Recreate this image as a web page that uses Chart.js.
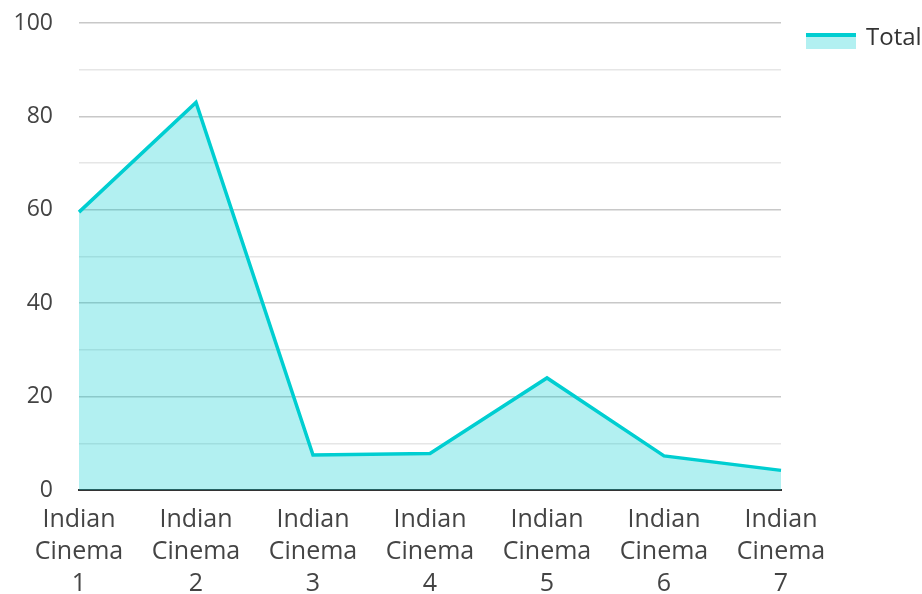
<!DOCTYPE html>
<html>
<head>
<meta charset="utf-8">
<script src="https://cdn.jsdelivr.net/npm/chart.js@4.4.1/dist/chart.umd.min.js"></script>
<style>
html,body{margin:0;padding:0;background:#fff;}
#wrap{width:922px;height:594px;position:relative;}
</style>
</head>
<body>
<div id="wrap"><canvas id="c"></canvas></div>
<script>
const categories = [
  ["Indian","Cinema","1"],
  ["Indian","Cinema","2"],
  ["Indian","Cinema","3"],
  ["Indian","Cinema","4"],
  ["Indian","Cinema","5"],
  ["Indian","Cinema","6"],
  ["Indian","Cinema","7"]
];
const seriesName = "Total";
const totalValues = [59.5, 83, 7.5, 7.8, 24, 7.3, 4.2];
const yMin = 0, yMax = 100, yStep = 10, yLabelStep = 20;

const LINE = '#00CED1';
const FILL = 'rgba(0,206,209,0.3)';
const TEXT = '#444444';

// legend swatch: line on top, fill below
const sw = document.createElement('canvas');
sw.width = 50; sw.height = 22;
(function(){
  const g = sw.getContext('2d');
  g.fillStyle = FILL; g.fillRect(0,6,50,16);
  g.fillStyle = LINE; g.fillRect(0,6,50,4);
})();

Chart.defaults.font.family = '"Open Sans", "Noto Sans", sans-serif';
Chart.defaults.font.size = 23;
Chart.defaults.color = TEXT;

new Chart(document.getElementById('c'), {
  type: 'line',
  data: {
    labels: categories,
    datasets: [{
      label: seriesName,
      data: totalValues,
      borderColor: LINE,
      backgroundColor: FILL,
      borderWidth: 3.5,
      fill: 'origin',
      pointRadius: 0,
      pointHoverRadius: 0,
      tension: 0,
      pointStyle: sw
    }]
  },
  options: {
    responsive: true,
    maintainAspectRatio: false,
    animation: false,
    layout: { padding: { left: 0, top: 0, bottom: 0, right: 2 } },
    plugins: {
      tooltip: { enabled: false },
      legend: {
        position: 'right',
        align: 'start',
        maxWidth: 139,
        labels: {
          usePointStyle: true,
          pointStyleWidth: 47,
          boxHeight: 16,
          padding: 26,
          color: '#333',
          font: { size: 24 }
        }
      }
    },
    scales: {
      x: {
        offset: false,
        grid: { display: false, drawTicks: false },
        border: { display: true, color: '#333', width: 2 },
        ticks: { padding: 14, maxRotation: 0, autoSkip: false, font: { size: 25, lineHeight: '32px' } },
        afterFit: (s) => { s.height = 104; }
      },
      y: {
        min: yMin, max: yMax,
        grid: {
          drawTicks: false,
          color: (ctx) => {
            const v = ctx.tick.value;
            if (v === 0) return 'rgba(0,0,0,0)';
            return (v % yLabelStep === 0) ? '#c8c8c8' : '#e6e6e6';
          },
          lineWidth: 1.5
        },
        border: { display: false },
        ticks: {
          stepSize: yStep,
          padding: 26,
          font: { size: 23 },
          callback: (v) => (v % yLabelStep === 0 ? String(v) : '')
        },
        afterFit: (s) => { s.width = 79; s.paddingTop = 23; }
      }
    }
  }
});
</script>
</body>
</html>
